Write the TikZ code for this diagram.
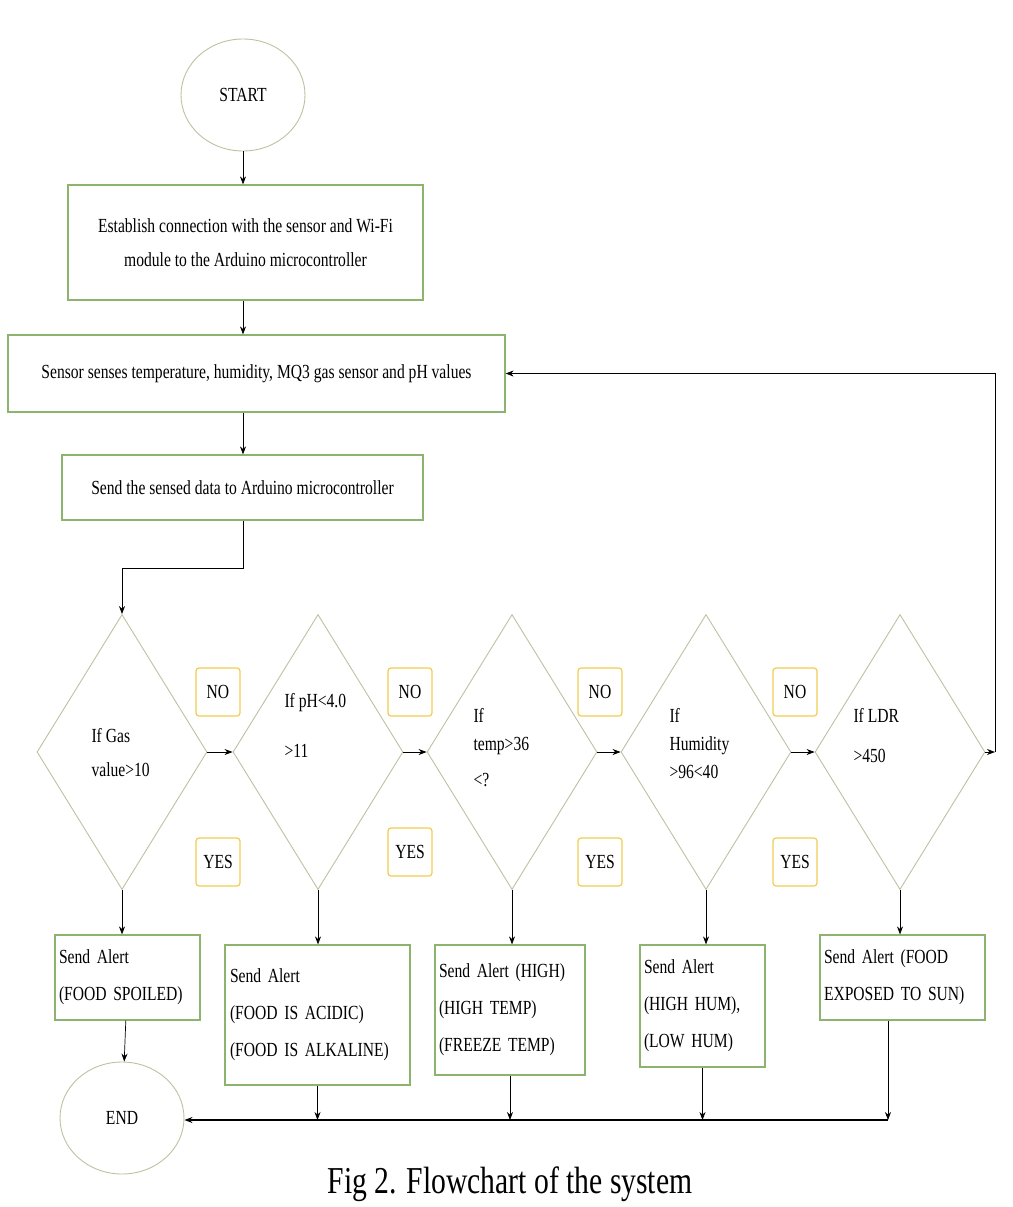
\documentclass[tikz,border=0pt]{standalone}
\usepackage{fontspec}
\setmainfont{Liberation Serif}[FakeStretch=0.78]
\usetikzlibrary{shapes.geometric,arrows.meta}
\definecolor{gbox}{RGB}{140,180,110}
\definecolor{gdia}{RGB}{185,195,160}
\definecolor{ybox}{RGB}{240,205,80}
\begin{document}
\begin{tikzpicture}[x=1pt,y=-1pt,
 box/.style={draw=gbox,line width=1.2pt,inner sep=0pt,font=\fontsize{20}{34}\selectfont},
 abox/.style={box,align=left,font=\fontsize{20}{37}\selectfont\raggedright},
 dia/.style={draw=gdia,line width=0.9pt,diamond,minimum width=170pt,minimum height=275pt,inner sep=0pt,aspect=0.6},
 yn/.style={draw=ybox,line width=1.2pt,rounded corners=3pt,minimum width=44pt,minimum height=48pt,font=\fontsize{20}{22}\selectfont},
 circ/.style={draw=gdia,line width=0.9pt,ellipse,minimum width=124pt,minimum height=112pt,font=\fontsize{20}{22}\selectfont},
 arr/.style={-{Stealth[length=8pt,width=6pt]},line width=0.7pt},
 dtext/.style={font=\fontsize{20}{28}\selectfont,align=left,anchor=north west}]
\useasboundingbox (0,0) rectangle (1012,1207);
\node[circ] (start) at (243,95) {START};
\node[box,minimum width=355pt,minimum height=115pt,align=center] (b1) at (245.5,242.5) {Establish connection with the sensor and Wi-Fi\\module to the Arduino microcontroller};
\node[box,minimum width=497pt,minimum height=77pt] (b2) at (256.5,373.5) {Sensor senses temperature, humidity, MQ3 gas sensor and pH values};
\node[box,minimum width=361pt,minimum height=65pt] (b3) at (242.5,487.5) {Send the sensed data to Arduino microcontroller};
\foreach \i/\x in {1/122,2/318,3/512,4/706,5/900}{
  \node[dia] (d\i) at (\x,752) {};
}
\node[dtext] at (88,725) {If Gas\\[6pt]value>10};
\node[dtext] at (281,690) {If pH<4.0\\[22pt]>11};
\node[dtext] at (470,705) {If\\temp>36\\[8pt]<?};
\node[dtext] at (666,705) {If\\Humidity\\>96<40};
\node[dtext] at (850,705) {If LDR\\[12pt]>450};
\foreach \i/\x in {1/218,2/410,3/600,4/795}{
  \node[yn] (n\i) at (\x,692) {NO};
}
\node[yn] (y1) at (218,862) {YES};
\node[yn] (y2) at (410,852) {YES};
\node[yn] (y3) at (600,862) {YES};
\node[yn] (y4) at (795,862) {YES};
\node[abox,minimum width=145pt,minimum height=85pt,text width=137pt] (a1) at (127.5,977.5) {Send Alert\\(FOOD SPOILED)};
\node[abox,minimum width=185pt,minimum height=140pt,text width=175pt] (a2) at (317.5,1015) {Send Alert\\(FOOD IS ACIDIC)\\(FOOD IS ALKALINE)\\[14pt]};
\node[abox,minimum width=150pt,minimum height=130pt,text width=142pt] (a3) at (510,1010) {Send Alert (HIGH)\\(HIGH TEMP)\\(FREEZE TEMP)\\[4pt]};
\node[abox,minimum width=125pt,minimum height=122pt,text width=117pt] (a4) at (702.5,1006) {Send Alert\\(HIGH HUM),\\(LOW HUM)\\[2pt]};
\node[abox,minimum width=165pt,minimum height=85pt,text width=157pt] (a5) at (902.5,977.5) {Send Alert (FOOD\\EXPOSED TO SUN)};
\node[circ] (end) at (122,1118) {END};
\node[font=\fontsize{38}{42}\selectfont,anchor=north] (cap) at (510,1163) {Fig 2. Flowchart of the system};
\draw[arr] (start) -- (start |- b1.north);
\draw[arr] (start |- b1.south) -- (start |- b2.north);
\draw[arr] (start |- b2.south) -- (start |- b3.north);
\draw[arr] (start |- b3.south) -- ++(0,48) -| (d1.north);
\draw[arr] (d1.east) -- (d2.west);
\draw[arr] (d2.east) -- (d3.west);
\draw[arr] (d3.east) -- (d4.west);
\draw[arr] (d4.east) -- (d5.west);
\draw[arr] (d5.east) -- (995,752);
\coordinate (rt) at (995,752);
\draw[arr] (rt) |- (b2.east);
\foreach \i in {1,...,5}{\draw[arr] (d\i.south) -- (d\i.south |- a\i.north);}
\draw[arr] (a1) -- (end);
\coordinate (lr) at (888,1120);
\draw[arr,line width=1.2pt] (lr) -- (end.east |- lr);
\draw[arr] (a2.south) -- (a2.south |- lr);
\draw[arr] (a3.south) -- (a3.south |- lr);
\draw[arr] (a4.south) -- (a4.south |- lr);
\draw[arr] (lr |- a5.south) -- (lr);
\end{tikzpicture}
\end{document}
